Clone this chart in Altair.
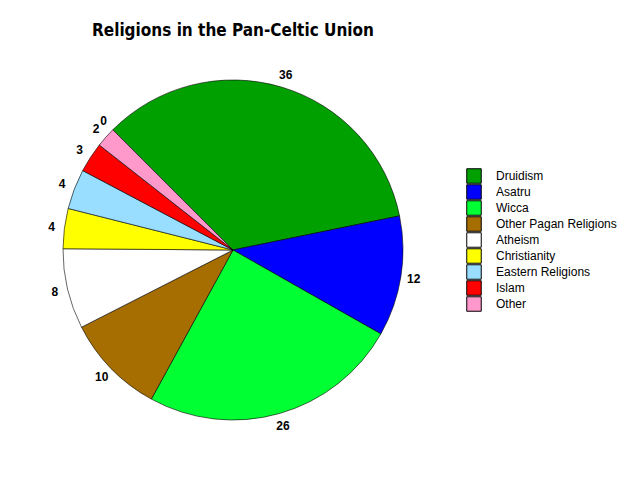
import altair as alt
import pandas as pd

names = ["Druidism", "Asatru", "Wicca", "Other Pagan Religions", "Atheism",
         "Christianity", "Eastern Religions", "Islam", "Other"]
values = [36, 12, 26, 10, 8, 4, 4, 3, 2]
colors = ["#00A000", "#0000FF", "#00FF33", "#A66E00", "#FFFFFF",
          "#FFFF00", "#99DDFF", "#FF0000", "#FF99CC"]

# labels include an extra zero-valued entry drawn at the end
label_names = names + ["(none)"]
label_values = values + [0]

arcs_df = pd.DataFrame({"name": names, "value": values, "ord": list(range(len(names)))})
lab_df = pd.DataFrame({"name": label_names, "value": label_values,
                       "ord": list(range(len(label_names))),
                       "label": [str(v) for v in label_values]})

PI = 3.141592653589793
theta_scale = alt.Scale(range=[-PI / 4, 2 * PI - PI / 4])

CX, CY = 225, 202

pie = alt.Chart(arcs_df).mark_arc(stroke="black", strokeWidth=0.6, outerRadius=170).encode(
    theta=alt.Theta("value:Q", stack=True, scale=theta_scale),
    order=alt.Order("ord:Q"),
    fill=alt.Fill("name:N", scale=alt.Scale(domain=names, range=colors),
                  sort=names,
                  legend=alt.Legend(title=None, orient="none", legendX=458, legendY=120,
                                    symbolType="square", symbolSize=210,
                                    symbolStrokeColor="black", symbolStrokeWidth=1,
                                    labelFont="Liberation Sans", labelFontSize=12,
                                    labelColor="black", labelOffset=14,
                                    clipHeight=16, rowPadding=0, padding=0)),
    x=alt.value(CX), y=alt.value(CY),
)

labels = alt.Chart(lab_df).mark_text(radius=183, font="Liberation Sans", fontSize=12,
                                     fontWeight="bold", color="black").encode(
    theta=alt.Theta("value:Q", stack=True, scale=theta_scale),
    order=alt.Order("ord:Q"),
    text="label:N",
    x=alt.value(CX), y=alt.value(CY),
)

chart = alt.layer(pie, labels).properties(
    width=450, height=420,
    padding={"top": 14, "left": 0, "right": 0, "bottom": 0},
    title=alt.TitleParams("Religions in the Pan-Celtic Union",
                          font="DejaVu Sans Condensed, DejaVu Sans, sans-serif",
                          fontSize=17, fontWeight="bold", color="black", anchor="middle",
                          offset=8),
).configure_view(stroke=None)

chart.save("out.html", embed_options={"renderer": "svg", "actions": False})
